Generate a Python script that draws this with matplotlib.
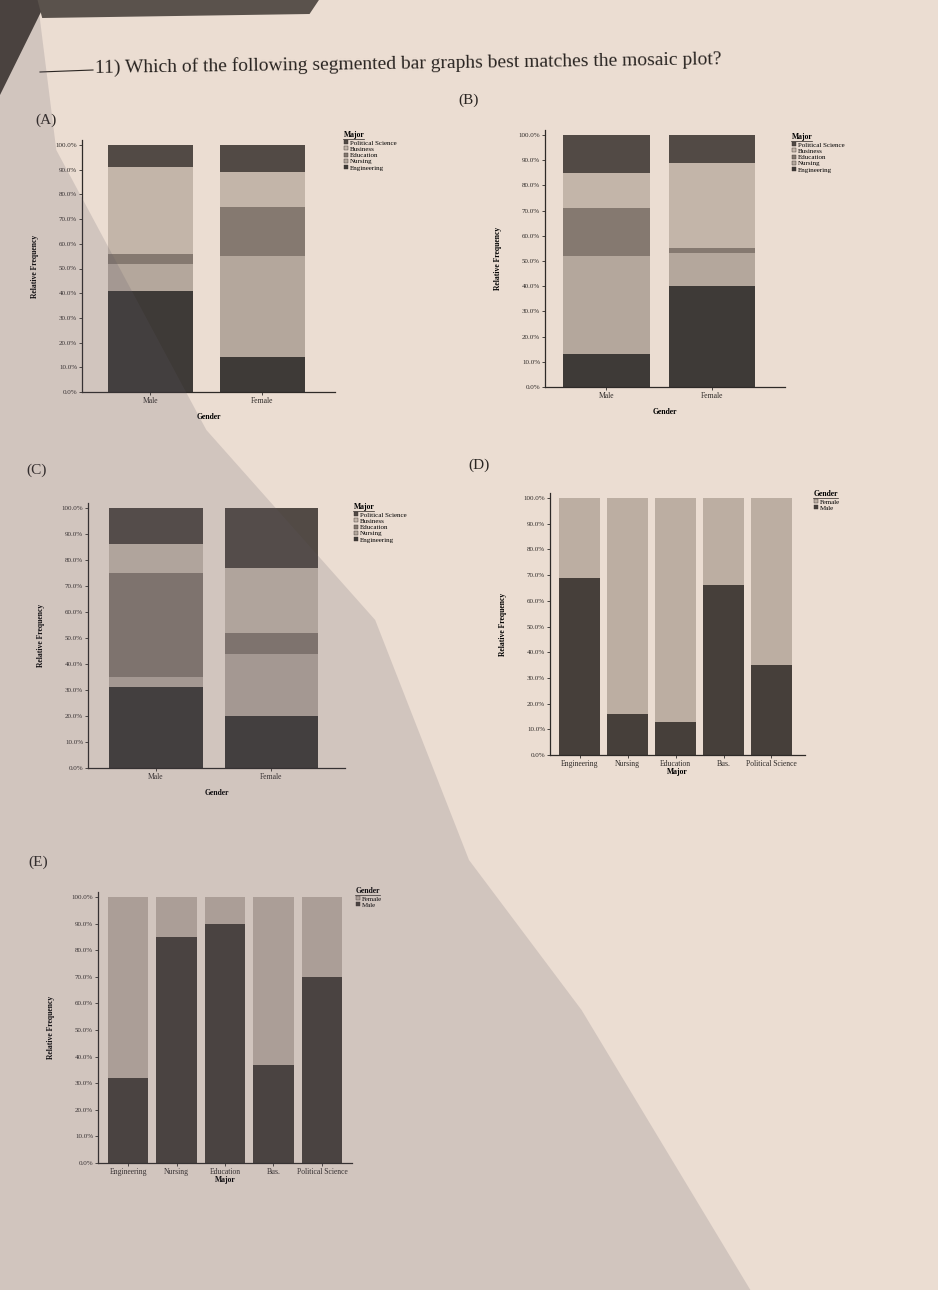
import numpy as np
import matplotlib.pyplot as plt
from matplotlib.lines import Line2D
from matplotlib.patches import Polygon

plt.rcParams['font.family'] = ['Liberation Serif', 'DejaVu Serif']

W, H = 938, 1290

# --------------------------
# Data (percent, stacked bottom -> top)
# --------------------------
majors = ['Engineering', 'Nursing', 'Education', 'Business', 'Political Science']
genders = ['Male', 'Female']
major_ticks = ['Engineering', 'Nursing', 'Education', 'Bus.', 'Political Science']
gender_stack = ['Male', 'Female']

a_male = [41, 11, 4, 35, 9]
a_female = [14, 41, 20, 14, 11]
b_male = [13, 39, 19, 14, 15]
b_female = [40, 13, 2, 34, 11]
c_male = [31, 4, 40, 11, 14]
c_female = [20, 24, 8, 25, 23]
d_male = [69, 16, 13, 66, 35]
d_female = [31, 84, 87, 34, 65]
e_male = [32, 85, 90, 37, 70]
e_female = [68, 15, 10, 63, 30]

major_colors = ['#3e3a37', '#b4a79c', '#857970', '#c3b5a9', '#524a45']
gender_colors = ['#463f3a', '#bcaea2']

fig = plt.figure(figsize=(W / 100, H / 100), dpi=100)
fig.patch.set_facecolor('#ebddd2')


def px_axes(x0, x1, y0, y100):
    h = (y0 - y100) * 1.02
    ax = fig.add_axes([x0 / W, 1 - y0 / H, (x1 - x0) / W, h / H])
    ax.set_facecolor('none')
    ax.set_ylim(0, 102)
    ax.spines[['top', 'right']].set_visible(False)
    for s in ['left', 'bottom']:
        ax.spines[s].set_color('#2e2a28')
        ax.spines[s].set_linewidth(0.9)
    ax.set_yticks(np.arange(0, 101, 10))
    ax.set_yticklabels([f'{v:.1f}%' for v in np.arange(0, 101, 10)])
    ax.tick_params(axis='y', labelsize=5, length=2.5, width=0.6, pad=1, colors='#2e2a28')
    ax.tick_params(axis='x', labelsize=5.5, length=2, width=0.6, pad=1.5, colors='#2e2a28')
    ax.set_ylabel('Relative Frequency', fontsize=5.5, fontweight='bold', labelpad=12)
    return ax


def stacked(ax, cats, series, colors, width):
    x = np.arange(len(cats))
    bottom = np.zeros(len(cats))
    for vals, col in zip(series, colors):
        vals = np.array(vals, dtype=float)
        ax.bar(x, vals, width, bottom=bottom, color=col, edgecolor='none')
        bottom += vals
    ax.set_xticks(x)
    ax.set_xticklabels(cats)


def add_legend(ax, names, colors, title, anchor):
    handles = [Line2D([], [], marker='s', linestyle='none', markersize=2.2,
                      markerfacecolor=c, markeredgecolor='#3a3431', markeredgewidth=0.3)
               for c in colors]
    leg = ax.legend(handles[::-1], names[::-1], title=title, loc='upper left',
                    bbox_to_anchor=anchor, bbox_transform=fig.transFigure,
                    frameon=False, fontsize=5, handlelength=0.6, handletextpad=0.3,
                    labelspacing=0.05, borderpad=0, alignment='left')
    leg.get_title().set_fontsize(5.5)
    leg.get_title().set_fontweight('bold')
    return leg


legends = []

# (A)
ax = px_axes(82, 335, 392, 145)
stacked(ax, genders, [[a_male[i], a_female[i]] for i in range(5)], major_colors, 0.76)
ax.set_xlim(-0.61, 1.65)
ax.set_xlabel('Gender', fontsize=5.5, fontweight='bold', labelpad=6)
legends.append(add_legend(ax, majors, major_colors, 'Major', (340 / W, 1 - 128 / H)))

# (B)
ax = px_axes(545, 785, 387, 135)
stacked(ax, genders, [[b_male[i], b_female[i]] for i in range(5)], major_colors, 0.82)
ax.set_xlim(-0.58, 1.69)
ax.set_xlabel('Gender', fontsize=5.5, fontweight='bold', labelpad=6)
legends.append(add_legend(ax, majors, major_colors, 'Major', (788 / W, 1 - 130 / H)))

# (C)
ax = px_axes(88, 345, 768, 508)
stacked(ax, genders, [[c_male[i], c_female[i]] for i in range(5)], major_colors, 0.81)
ax.set_xlim(-0.59, 1.64)
ax.set_xlabel('Gender', fontsize=5.5, fontweight='bold', labelpad=6)
legends.append(add_legend(ax, majors, major_colors, 'Major', (350 / W, 1 - 500 / H)))

# (D)
ax = px_axes(550, 805, 755, 498)
stacked(ax, major_ticks, [d_male, d_female], gender_colors, 0.85)
ax.set_xlim(-0.62, 4.7)
ax.set_xlabel('Major', fontsize=5.5, fontweight='bold', labelpad=0)
legends.append(add_legend(ax, gender_stack, gender_colors, 'Gender', (810 / W, 1 - 487 / H)))

# (E)
ax = px_axes(98, 352, 1163, 897)
stacked(ax, major_ticks, [e_male, e_female], gender_colors, 0.83)
ax.set_xlim(-0.62, 4.62)
ax.set_xlabel('Major', fontsize=5.5, fontweight='bold', labelpad=0)
legends.append(add_legend(ax, gender_stack, gender_colors, 'Gender', (352 / W, 1 - 884 / H)))

# Page text
fig.text(95 / W, 1 - 64 / H, '11) Which of the following segmented bar graphs best matches the mosaic plot?',
         fontsize=14, rotation=0.8, va='center', ha='left', color='#2a2522')
for lab, (lx, ly) in {'(A)': (35, 120), '(B)': (458, 100), '(C)': (26, 470),
                      '(D)': (468, 465), '(E)': (28, 862)}.items():
    fig.text(lx / W, 1 - ly / H, lab, fontsize=11, va='center', ha='left', color='#2a2522')
fig.add_artist(Line2D([40 / W, 93 / W], [1 - 72 / H, 1 - 70 / H], color='#2a2522', lw=0.8))

# Shadow across the page (photo)
shadow = Polygon([(0, 1), (0.04, 1), (0.06, 1 - 150 / H), (0.22, 1 - 430 / H), (0.4, 1 - 620 / H),
                  (0.5, 1 - 860 / H), (0.62, 1 - 1010 / H), (0.8, 1 - 1290 / H), (0, 0)],
                 closed=True, transform=fig.transFigure, facecolor='#5f5866', alpha=0.18,
                 edgecolor='none', zorder=10)
fig.add_artist(shadow)
fig.add_artist(Polygon([(0, 1), (0.05, 1), (0, 1 - 95 / H)], closed=True, transform=fig.transFigure,
                       facecolor='#4a423f', edgecolor='none', zorder=11))
fig.add_artist(Polygon([(0.04, 1), (0.34, 1), (0.33, 1 - 14 / H), (0.045, 1 - 18 / H)], closed=True,
                       transform=fig.transFigure, facecolor='#5a524c', edgecolor='none', zorder=11))

# underline legend titles
fig.canvas.draw()
for leg in legends:
    bb = leg.get_title().get_window_extent()
    fig.add_artist(Line2D([bb.x0 / W, bb.x1 / W], [(bb.y0 + 0.5) / H] * 2, color='#2a2522', lw=0.5))

fig.savefig('out.png', dpi=100, facecolor=fig.get_facecolor())
